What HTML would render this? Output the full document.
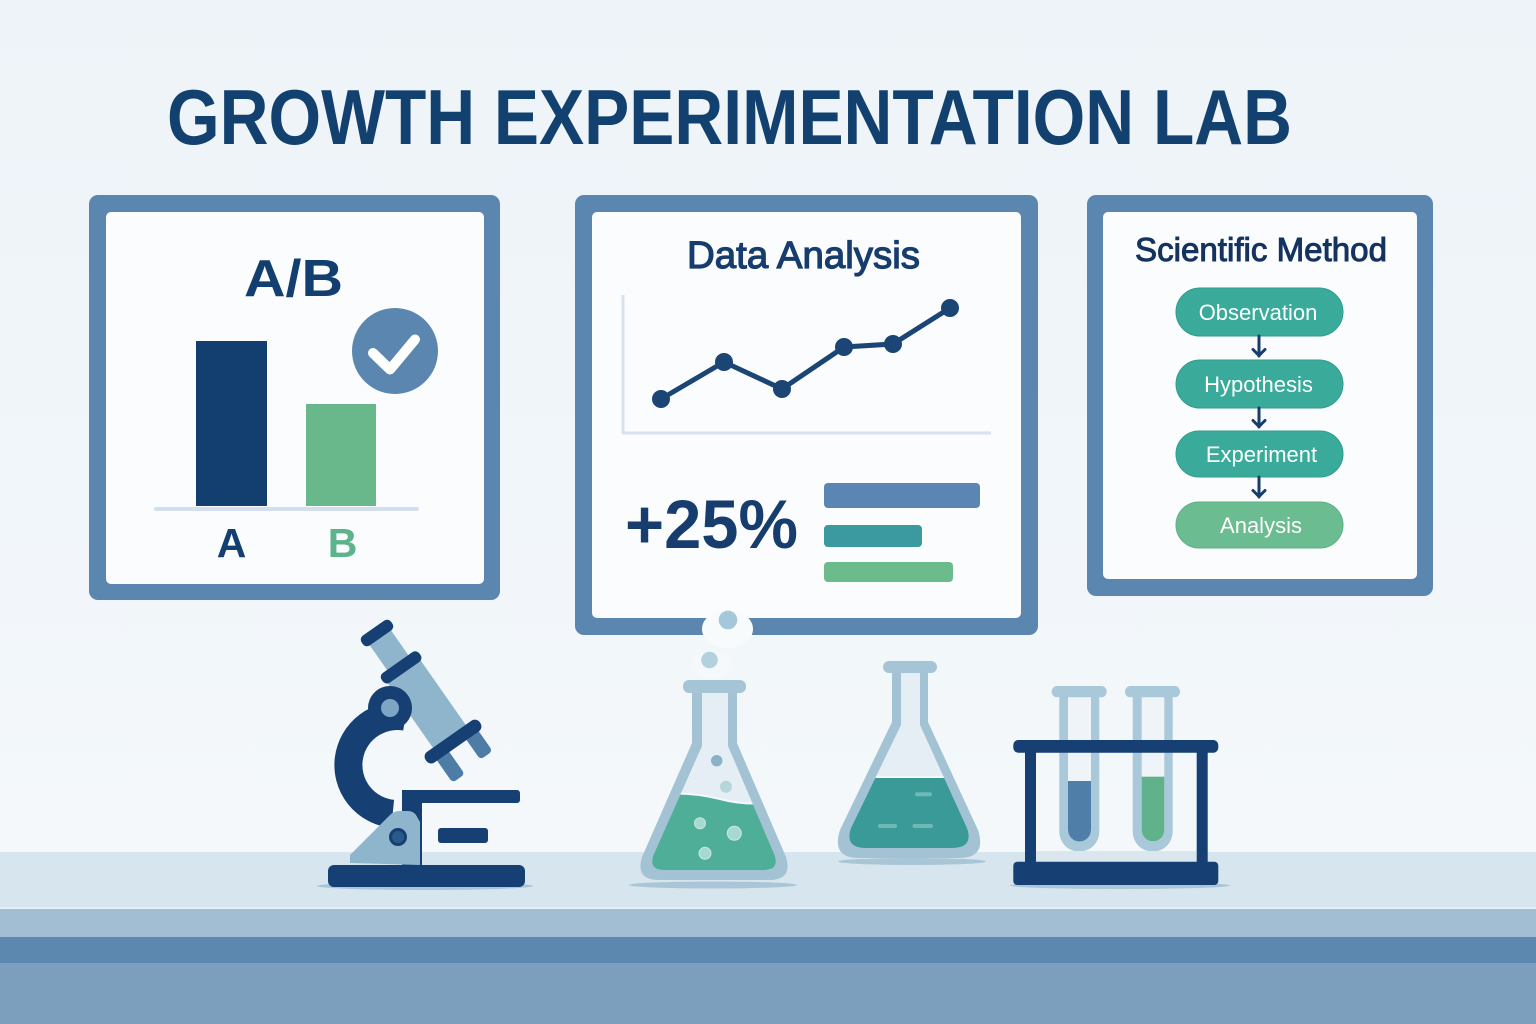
<!DOCTYPE html>
<html>
<head>
<meta charset="utf-8">
<style>
html,body{margin:0;padding:0;background:#eff5f9;}
svg{display:block;}
text{font-family:"Liberation Sans",Arial,sans-serif;}
</style>
</head>
<body>
<svg width="1536" height="1024" viewBox="0 0 1536 1024" xmlns="http://www.w3.org/2000/svg">
  <defs>
    <linearGradient id="bg" x1="0" y1="0" x2="0" y2="1">
      <stop offset="0" stop-color="#edf3f8"/>
      <stop offset="1" stop-color="#f4f8fb"/>
    </linearGradient>
    <clipPath id="f1in"><path d="M702 693 L702 746 L653 856 Q649 870 664 870 L764 870 Q779 870 775 856 L728 746 L728 693 Z"/></clipPath>
    <clipPath id="f2in"><path d="M901 672 L901 725 L851 828 Q844 848 866 848 L952 848 Q974 848 967 828 L920 725 L920 672 Z"/></clipPath>
    <clipPath id="t1in"><path d="M1068 697 L1068 830 A11.5 11.5 0 0 0 1091 830 L1091 697 Z"/></clipPath>
    <clipPath id="t2in"><path d="M1141.7 697 L1141.7 830 A11.3 11.3 0 0 0 1164.3 830 L1164.3 697 Z"/></clipPath>
  </defs>

  <!-- background -->
  <rect x="0" y="0" width="1536" height="851" fill="url(#bg)"/>
  <!-- bench -->
  <rect x="0" y="851" width="1536" height="57" fill="#d7e5ee"/>
  <rect x="0" y="850" width="1536" height="2" fill="#f4f8fb"/>
  <rect x="0" y="908" width="1536" height="29" fill="#a1bed2"/>
  <rect x="0" y="907" width="1536" height="2" fill="#e4eef4"/>
  <rect x="0" y="937" width="1536" height="26" fill="#5c87af"/>
  <rect x="0" y="963" width="1536" height="61" fill="#7d9fbe"/>

  <!-- title -->
  <text x="167" y="144" font-size="78" font-weight="bold" fill="#12406f" textLength="1125" lengthAdjust="spacingAndGlyphs">GROWTH EXPERIMENTATION LAB</text>

  <!-- Panel 1 -->
  <rect x="89" y="195" width="411" height="405" rx="9" fill="#5b86b0"/>
  <rect x="106" y="212" width="378" height="372" rx="5" fill="#fbfcfd"/>
  <text x="244" y="296" font-size="52" font-weight="bold" fill="#123f70" textLength="99" lengthAdjust="spacingAndGlyphs">A/B</text>
  <rect x="196" y="341" width="71" height="165" fill="#123f70"/>
  <rect x="306" y="404" width="70" height="102" fill="#68b88c"/>
  <rect x="154" y="507" width="265" height="4" rx="2" fill="#d3dfec"/>
  <text x="231.5" y="557" font-size="41" font-weight="bold" fill="#123f70" text-anchor="middle">A</text>
  <text x="342.5" y="557" font-size="41" font-weight="bold" fill="#5db38a" text-anchor="middle">B</text>
  <circle cx="395" cy="351" r="43" fill="#5b86b0"/>
  <polyline points="373,353 390,369.5 415,339.5" fill="none" stroke="#ffffff" stroke-width="10" stroke-linecap="round" stroke-linejoin="round"/>

  <!-- Panel 2 -->
  <rect x="575" y="195" width="463" height="440" rx="9" fill="#5b86b0"/>
  <rect x="592" y="212" width="429" height="406" rx="5" fill="#fbfcfd"/>
  <text x="687" y="268" font-size="38" fill="#163d6e" stroke="#163d6e" stroke-width="1.2" textLength="233" lengthAdjust="spacingAndGlyphs">Data Analysis</text>
  <line x1="623" y1="295" x2="623" y2="433" stroke="#d6e2ef" stroke-width="3"/>
  <line x1="622" y1="433" x2="991" y2="433" stroke="#d6e2ef" stroke-width="3"/>
  <polyline points="661,399 724,362 782,389 844,347 893,344 950,308" fill="none" stroke="#1a4574" stroke-width="5" stroke-linejoin="round"/>
  <g fill="#1a4574">
    <circle cx="661" cy="399" r="9"/>
    <circle cx="724" cy="362" r="9"/>
    <circle cx="782" cy="389" r="9"/>
    <circle cx="844" cy="347" r="9"/>
    <circle cx="893" cy="344" r="9"/>
    <circle cx="950" cy="308" r="9"/>
  </g>
  <text x="625" y="548" font-size="69" font-weight="bold" fill="#163d6e" textLength="173" lengthAdjust="spacingAndGlyphs">+25%</text>
  <rect x="824" y="483" width="156" height="25" rx="4" fill="#5b86b4"/>
  <rect x="824" y="525" width="98" height="22" rx="4" fill="#3a9a9f"/>
  <rect x="824" y="562" width="129" height="20" rx="4" fill="#6bbb8d"/>
  <!-- notch -->
  <rect x="702" y="610" width="51" height="38" rx="25" fill="#f8fbfc"/>
  <circle cx="728" cy="620" r="9.3" fill="#a5c7da"/>
  <ellipse cx="712" cy="665" rx="20" ry="14" fill="#f6f9fb" opacity="0.8"/>
  <circle cx="709.5" cy="660" r="8.3" fill="#b3d0df"/>

  <!-- Panel 3 -->
  <rect x="1087" y="195" width="346" height="401" rx="9" fill="#5b86b0"/>
  <rect x="1103" y="212" width="314" height="367" rx="5" fill="#fbfcfd"/>
  <text x="1135" y="261" font-size="33" fill="#15335f" stroke="#15335f" stroke-width="1" textLength="252" lengthAdjust="spacingAndGlyphs">Scientific Method</text>
  <rect x="1176" y="288" width="167" height="48" rx="24" fill="#3aab9a" stroke="#2f9e8c" stroke-width="1"/>
  <rect x="1176" y="360" width="167" height="48" rx="24" fill="#3aab9a" stroke="#2f9e8c" stroke-width="1"/>
  <rect x="1176" y="431" width="167" height="46" rx="23" fill="#3aab9a" stroke="#2f9e8c" stroke-width="1"/>
  <rect x="1176" y="502" width="167" height="46" rx="23" fill="#6bbc90" stroke="#5fb085" stroke-width="1"/>
  <g stroke="#163d6e" stroke-width="3" fill="none" stroke-linecap="round">
    <line x1="1259" y1="336" x2="1259" y2="356"/>
    <polyline points="1253,349.5 1259,355.5 1265,349.5"/>
    <line x1="1259" y1="408" x2="1259" y2="427"/>
    <polyline points="1253,420.5 1259,426.5 1265,420.5"/>
    <line x1="1259" y1="477" x2="1259" y2="497"/>
    <polyline points="1253,490.5 1259,496.5 1265,490.5"/>
  </g>
  <g font-size="22" fill="#ffffff" text-anchor="middle">
    <text x="1258" y="320">Observation</text>
    <text x="1258.5" y="392">Hypothesis</text>
    <text x="1261.5" y="462">Experiment</text>
    <text x="1261" y="533">Analysis</text>
  </g>

  <!-- Microscope -->
  <ellipse cx="425" cy="886" rx="108" ry="4" fill="#a6c5d6"/>
  <path d="M405.5 716.7 A49 49 0 1 0 392.7 813.8" fill="none" stroke="#163f73" stroke-width="28"/>
  <g transform="translate(377,633) rotate(-35)">
    <rect x="-13" y="0" width="26" height="42" fill="#8fb5cc"/>
    <rect x="-20" y="40" width="40" height="92" fill="#8fb5cc"/>
    <rect x="-24" y="130" width="15" height="36" rx="4" fill="#4d7ca5"/>
    <rect x="12" y="130" width="15" height="33" rx="4" fill="#4d7ca5"/>
    <rect x="-33" y="126" width="66" height="13" rx="6" fill="#163f73"/>
    <rect x="-23" y="36" width="46" height="12" rx="5" fill="#163f73"/>
    <rect x="-18" y="-6" width="36" height="12" rx="5" fill="#163f73"/>
  </g>
  <circle cx="390" cy="708" r="22" fill="#163f73"/>
  <circle cx="390" cy="708" r="9" fill="#7fa5c4"/>
  <rect x="402" y="790" width="118" height="13" rx="3" fill="#163f73"/>
  <rect x="402" y="790" width="20" height="75" fill="#163f73"/>
  <rect x="438" y="828" width="50" height="15" rx="3" fill="#163f73"/>
  <path d="M350 863 L350 855 L390 815 Q394 811 400 811 L408 811 Q413 811 416 815 L420 822 L420 865 Z" fill="#8fb5cc"/>
  <circle cx="398" cy="837" r="9" fill="#163f73"/>
  <circle cx="398" cy="837" r="6" fill="#2a5a88"/>
  <rect x="328" y="865" width="197" height="22" rx="6" fill="#163f73"/>

  <!-- Flask 1 -->
  <ellipse cx="713" cy="885" rx="84" ry="3.5" fill="#a8c6d6"/>
  <path d="M692 693 L692 743 L642 857 Q635 880 659 880 L769 880 Q793 880 786 857 L737 743 L737 693 Z" fill="#a3c3d5"/>
  <path d="M702 693 L702 746 L653 856 Q649 870 664 870 L764 870 Q779 870 775 856 L728 746 L728 693 Z" fill="#e5eef4"/>
  <g clip-path="url(#f1in)">
    <path d="M640 797 Q680 789 720 799 Q748 807 790 801 L790 880 L640 880 Z" fill="#4fae98"/>
    <path d="M640 797 Q680 789 720 799 Q748 807 790 801" fill="none" stroke="#f4f8fb" stroke-width="2"/>
  </g>
  <rect x="683" y="680" width="63" height="13" rx="6" fill="#a5c5d6"/>
  <circle cx="716.7" cy="760.7" r="5.7" fill="#8ab1c6"/>
  <circle cx="726" cy="786.7" r="6" fill="#b5d6dd"/>
  <g fill="#a6dad0" stroke="#c6e8e2" stroke-width="1">
    <circle cx="700" cy="823.3" r="5.5"/>
    <circle cx="734.3" cy="833.3" r="7"/>
    <circle cx="705" cy="853.3" r="6"/>
  </g>

  <!-- Flask 2 -->
  <ellipse cx="912" cy="861.5" rx="74" ry="3.5" fill="#a8c6d6"/>
  <path d="M892 672 L892 722 L840 830 Q831 858 859 858 L959 858 Q987 858 978 830 L928 722 L928 672 Z" fill="#a3c3d5"/>
  <path d="M901 672 L901 725 L851 828 Q844 848 866 848 L952 848 Q974 848 967 828 L920 725 L920 672 Z" fill="#e5eef4"/>
  <g clip-path="url(#f2in)">
    <rect x="830" y="777" width="160" height="90" fill="#3a9a98"/>
    <line x1="830" y1="777" x2="990" y2="777" stroke="#f4f8fb" stroke-width="2"/>
  </g>
  <rect x="883" y="661" width="54" height="12" rx="6" fill="#a5c5d6"/>
  <g stroke="#6fb8b5" stroke-width="4" stroke-linecap="round">
    <line x1="917" y1="794.3" x2="930" y2="794.3"/>
    <line x1="880" y1="826" x2="895" y2="826"/>
    <line x1="914.5" y1="826" x2="931" y2="826"/>
  </g>

  <!-- Test tubes -->
  <ellipse cx="1120" cy="885.5" rx="110" ry="3.5" fill="#a8c6d6"/>
  <path d="M1059.3 697 L1059.3 831.7 A20 20 0 0 0 1099.3 831.7 L1099.3 697 Z" fill="#a9c8d9"/>
  <path d="M1068 697 L1068 830 A11.5 11.5 0 0 0 1091 830 L1091 697 Z" fill="#eef4f8"/>
  <rect x="1060" y="781" width="40" height="70" fill="#4f7fa8" clip-path="url(#t1in)"/>
  <rect x="1051.7" y="686" width="55" height="11.3" rx="5.5" fill="#a9c8d9"/>
  <path d="M1132.7 697 L1132.7 831.7 A20 20 0 0 0 1172.7 831.7 L1172.7 697 Z" fill="#a9c8d9"/>
  <path d="M1141.7 697 L1141.7 830 A11.3 11.3 0 0 0 1164.3 830 L1164.3 697 Z" fill="#eef4f8"/>
  <rect x="1133" y="776.7" width="40" height="75" fill="#5fb28a" clip-path="url(#t2in)"/>
  <rect x="1125" y="686" width="55" height="11.3" rx="5.5" fill="#a9c8d9"/>
  <rect x="1036" y="851" width="161" height="11" fill="#dbe7ef"/>
  <rect x="1013.3" y="740" width="205" height="12.7" rx="5" fill="#163f73"/>
  <rect x="1025" y="750" width="11" height="114" fill="#163f73"/>
  <rect x="1196.7" y="750" width="11" height="114" fill="#163f73"/>
  <rect x="1013.3" y="861.7" width="205" height="23.3" rx="4" fill="#163f73"/>
</svg>
</body>
</html>
